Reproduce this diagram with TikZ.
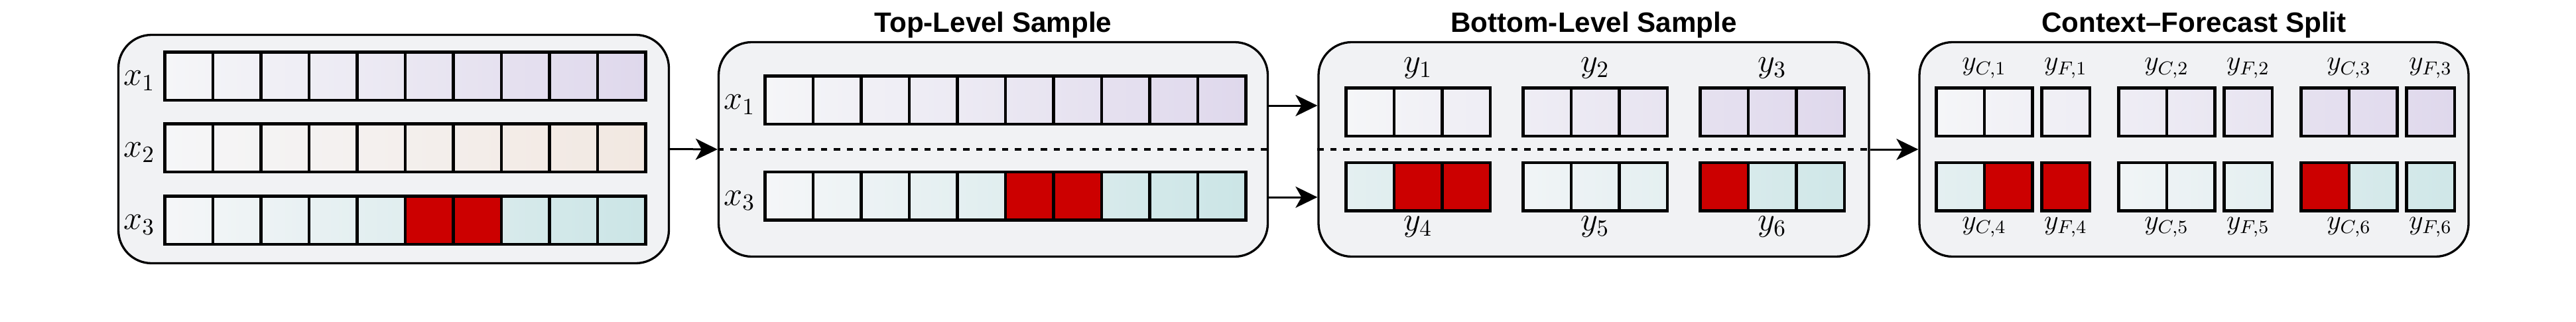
\documentclass[tikz,border=0pt]{standalone}
\usepackage{fontspec}
\setsansfont{Liberation Sans}
\usetikzlibrary{arrows.meta, positioning}

\definecolor{boxbg}{HTML}{F1F2F4}
\definecolor{tbase}{HTML}{F5F6F8}
\definecolor{tlav}{HTML}{DFD8EC}
\definecolor{tpch}{HTML}{F2E8E1}
\definecolor{tteal}{HTML}{CBE5E6}
\definecolor{hot}{HTML}{CC0000}

\begin{document}
\begin{tikzpicture}

\tikzset{panel/.style = {draw, line width=0.033cm, fill=boxbg, rounded corners=0.5cm, inner sep=0}}
\tikzset{cell/.style = {draw, line width=0.045cm, minimum size=0.725cm, inner sep=0}}
\tikzset{tone/.style n args = {3}{left color=#1!#2!tbase, right color=#1!#3!tbase}}
\tikzset{spike/.style = {fill=hot}}
\tikzset{edge/.style = {-{Stealth[length=0.33cm, width=0.32cm, inset=0.09cm]}, line width=0.03cm}}
\tikzset{split/.style = {line width=0.04cm, dash pattern=on 0.095cm off 0.1cm}}
\tikzset{title/.style = {font=\sffamily\bfseries\fontsize{12}{14}\selectfont, anchor=base}}
\tikzset{sym/.style = {font=\Large}}
\tikzset{subsym/.style = {font=\large}}

\useasboundingbox (0,0) rectangle (38.84,4.84);

%panels
\node[panel, minimum width=8.30cm, minimum height=3.44cm] (box1) at (5.935,2.595) {};
\node[panel, minimum width=8.28cm, minimum height=3.23cm] (box2) at (14.975,2.59) {};
\node[panel, minimum width=8.30cm, minimum height=3.23cm] (box3) at (24.03,2.59) {};
\node[panel, minimum width=8.28cm, minimum height=3.23cm] (box4) at (33.08,2.59) {};

\node[title] (t2) at ([yshift=0.13cm]box2.north) {Top-Level Sample};
\node[title] (t3) at ([yshift=0.13cm]box3.north) {Bottom-Level Sample};
\node[title] (t4) at ([yshift=0.13cm]box4.north) {Context--Forecast Split};

%series
\foreach \r/\c/\y in {1/tlav/3.695, 2/tpch/2.615, 3/tteal/1.525} {
  \node[sym] (lx\r) at (2.10,{\y-0.07}) {$x_\r$};
  \foreach \i in {0,...,9} {
    \pgfmathtruncatemacro{\a}{10*\i}
    \pgfmathtruncatemacro{\b}{\a+10}
    \tikzset{cur/.style={tone={\c}{\a}{\b}}}
    \ifnum\r=3 \ifnum\i>4 \ifnum\i<7 \tikzset{cur/.style={spike}}\fi\fi\fi
    \node[cell, cur] (x\r-\i) at ({2.845+0.725*\i},\y) {};
  }
}

%top-level sample
\foreach \r/\c/\y in {1/tlav/3.335, 3/tteal/1.89} {
  \node[sym] (ls\r) at (11.15,{\y-0.07}) {$x_\r$};
  \foreach \i in {0,...,9} {
    \pgfmathtruncatemacro{\a}{10*\i}
    \pgfmathtruncatemacro{\b}{\a+10}
    \tikzset{cur/.style={tone={\c}{\a}{\b}}}
    \ifnum\r=3 \ifnum\i>4 \ifnum\i<7 \tikzset{cur/.style={spike}}\fi\fi\fi
    \node[cell, cur] (s\r-\i) at ({11.895+0.725*\i},\y) {};
  }
}
\draw[split] (box2.west) -- (box2.east);

%bottom-level sample
\foreach \j/\s/\c/\y/\ly in {1/0/tlav/3.155/3.815, 2/3/tlav/3.155/3.815, 3/7/tlav/3.155/3.815,
                             4/4/tteal/2.03/1.42, 5/1/tteal/2.03/1.42, 6/6/tteal/2.03/1.42} {
  \pgfmathtruncatemacro{\w}{mod(\j-1,3)}
  \node[sym] (ly\j) at ({21.38+2.67*\w},\ly) {$y_\j$};
  \foreach \k in {0,1,2} {
    \pgfmathtruncatemacro{\q}{\s+\k}
    \pgfmathtruncatemacro{\a}{10*\q}
    \pgfmathtruncatemacro{\b}{\a+10}
    \tikzset{cur/.style={tone={\c}{\a}{\b}}}
    \ifnum\j>3 \ifnum\q>4 \ifnum\q<7 \tikzset{cur/.style={spike}}\fi\fi\fi
    \node[cell, cur] (y\j-\k) at ({20.655+2.67*\w+0.725*\k},\y) {};
  }
}
\draw[split] (box3.west) -- (box3.east);

%context-forecast split
\foreach \g/\s/\c/\y/\ly in {1/0/tlav/3.155/3.815, 2/3/tlav/3.155/3.815, 3/7/tlav/3.155/3.815,
                             4/4/tteal/2.03/1.42, 5/1/tteal/2.03/1.42, 6/6/tteal/2.03/1.42} {
  \pgfmathtruncatemacro{\w}{mod(\g-1,3)}
  \node[subsym] (lc\g) at ({29.9175+2.75*\w},\ly) {$y_{C,\g}$};
  \node[subsym] (lf\g) at ({31.145+2.75*\w},\ly) {$y_{F,\g}$};
  \foreach \k/\dx in {0/0, 1/0.725, 2/1.59} {
    \pgfmathtruncatemacro{\q}{\s+\k}
    \pgfmathtruncatemacro{\a}{10*\q}
    \pgfmathtruncatemacro{\b}{\a+10}
    \tikzset{cur/.style={tone={\c}{\a}{\b}}}
    \ifnum\g>3 \ifnum\q>4 \ifnum\q<7 \tikzset{cur/.style={spike}}\fi\fi\fi
    \node[cell, cur] (c\g-\k) at ({29.555+2.75*\w+\dx},\y) {};
  }
}

%arrows
\coordinate (hi) at (0,3.25);
\coordinate (lo) at (0,1.87);
\draw[edge] (box1.east) -- (box2.west);
\draw[edge] (box2.east |- hi) -- (box3.west |- hi);
\draw[edge] (box2.east |- lo) -- (box3.west |- lo);
\draw[edge] (box3.east) -- (box4.west);

\end{tikzpicture}
\end{document}
